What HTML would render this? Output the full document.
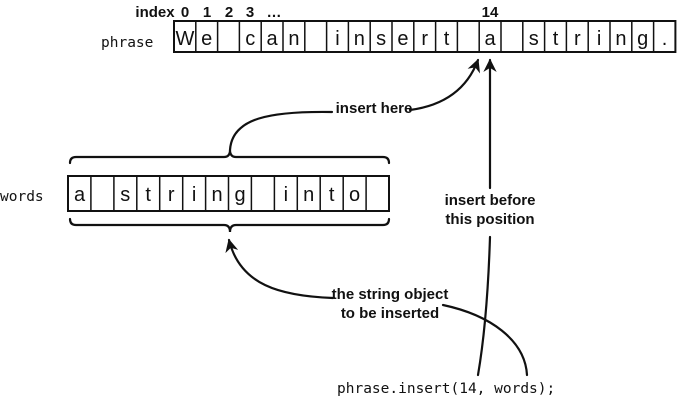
<!DOCTYPE html>
<html><head><meta charset="utf-8"><style>
html,body{margin:0;padding:0;background:#fff;width:685px;height:401px;overflow:hidden}
.c{font-family:"Liberation Sans Narrow","Liberation Sans",sans-serif;font-size:20px;text-anchor:middle}
.l{font-family:"Liberation Sans Narrow","Liberation Sans",sans-serif;font-size:15px;font-weight:bold;text-anchor:middle}
.m{font-family:"DejaVu Sans Mono","Liberation Mono",monospace;font-size:14.5px}
</style></head><body>
<svg width="685" height="401" viewBox="0 0 685 401" xmlns="http://www.w3.org/2000/svg">
<defs><marker id="ah" viewBox="0 0 10 10" refX="9" refY="5" markerWidth="6" markerHeight="6" orient="auto"><path d="M0,0 L10,5 L0,10 L3,5 z" fill="#111"/></marker></defs>
<g fill="#111">
<text class="l" x="155" y="17" style="text-anchor:middle">index</text>
<text class="l" x="185" y="17">0</text><text class="l" x="207" y="17">1</text><text class="l" x="229" y="17">2</text><text class="l" x="250" y="17">3</text><text class="l" x="274" y="17">…</text>
<text class="l" x="490" y="17">14</text>
<text class="m" x="101" y="47">phrase</text>
<text class="m" x="0" y="201">words</text>
</g>
<rect x="174" y="21" width="501.4" height="31" fill="none" stroke="#111" stroke-width="2"/>
<g stroke="#111" stroke-width="1.5">
<path d="M195.8 21V52M217.6 21V52M239.4 21V52M261.2 21V52M283 21V52M304.8 21V52M326.6 21V52M348.4 21V52M370.2 21V52M392 21V52M413.8 21V52M435.6 21V52M457.4 21V52M479.2 21V52M501 21V52M522.8 21V52M544.6 21V52M566.4 21V52M588.2 21V52M610 21V52M631.8 21V52M653.6 21V52"/>
</g>
<g class="c" fill="#111">
<text x="184.9" y="45">W</text><text x="206.7" y="45">e</text><text x="250.3" y="45">c</text><text x="272.1" y="45">a</text><text x="293.9" y="45">n</text><text x="337.5" y="45">i</text><text x="359.3" y="45">n</text><text x="381.1" y="45">s</text><text x="402.9" y="45">e</text><text x="424.7" y="45">r</text><text x="446.5" y="45">t</text><text x="490.1" y="45">a</text><text x="533.7" y="45">s</text><text x="555.5" y="45">t</text><text x="577.3" y="45">r</text><text x="599.1" y="45">i</text><text x="620.9" y="45">n</text><text x="642.7" y="45">g</text><text x="664.5" y="45">.</text>
</g>
<rect x="68" y="176" width="321" height="35" fill="none" stroke="#111" stroke-width="2"/>
<g stroke="#111" stroke-width="1.5">
<path d="M90.9 176V211M113.9 176V211M136.8 176V211M159.7 176V211M182.7 176V211M205.6 176V211M228.5 176V211M251.4 176V211M274.4 176V211M297.3 176V211M320.2 176V211M343.2 176V211M366.1 176V211"/>
</g>
<g class="c" fill="#111">
<text x="79.5" y="201">a</text><text x="125.3" y="201">s</text><text x="148.2" y="201">t</text><text x="171.2" y="201">r</text><text x="194.1" y="201">i</text><text x="217" y="201">n</text><text x="240" y="201">g</text><text x="285.8" y="201">i</text><text x="308.7" y="201">n</text><text x="331.7" y="201">t</text><text x="354.6" y="201">o</text>
</g>
<g fill="none" stroke="#111" stroke-width="2.2" stroke-linecap="round">
<path d="M70 163 Q70 157 76 157 L224 157 Q230 157 230 150 Q230 157 236 157 L383 157 Q389 157 389 163"/>
<path d="M70 219 Q70 225 76 225 L224 225 Q230 225 230 232 Q230 225 236 225 L383 225 Q389 225 389 219"/>
<path d="M332 112 C 270 111 232 118 230 150"/>
<path d="M410 110 C 440 106 466 92 478 60" marker-end="url(#ah)"/>
<path d="M490 188 L490 60" marker-end="url(#ah)"/>
<path d="M490 237 C 488 300 484 340 478 375"/>
<path d="M333 298 C 280 296 240 285 229 240" marker-end="url(#ah)"/>
<path d="M443 305 C 490 315 525 340 527 375"/>
</g>
<g fill="#111">
<text class="l" x="374" y="113">insert here</text>
<text class="l" x="490" y="205">insert before</text>
<text class="l" x="490" y="224">this position</text>
<text class="l" x="390" y="299">the string object</text>
<text class="l" x="390" y="318">to be inserted</text>
<text class="m" x="337" y="393">phrase.insert(14, words);</text>
</g>
</svg>
</body></html>
